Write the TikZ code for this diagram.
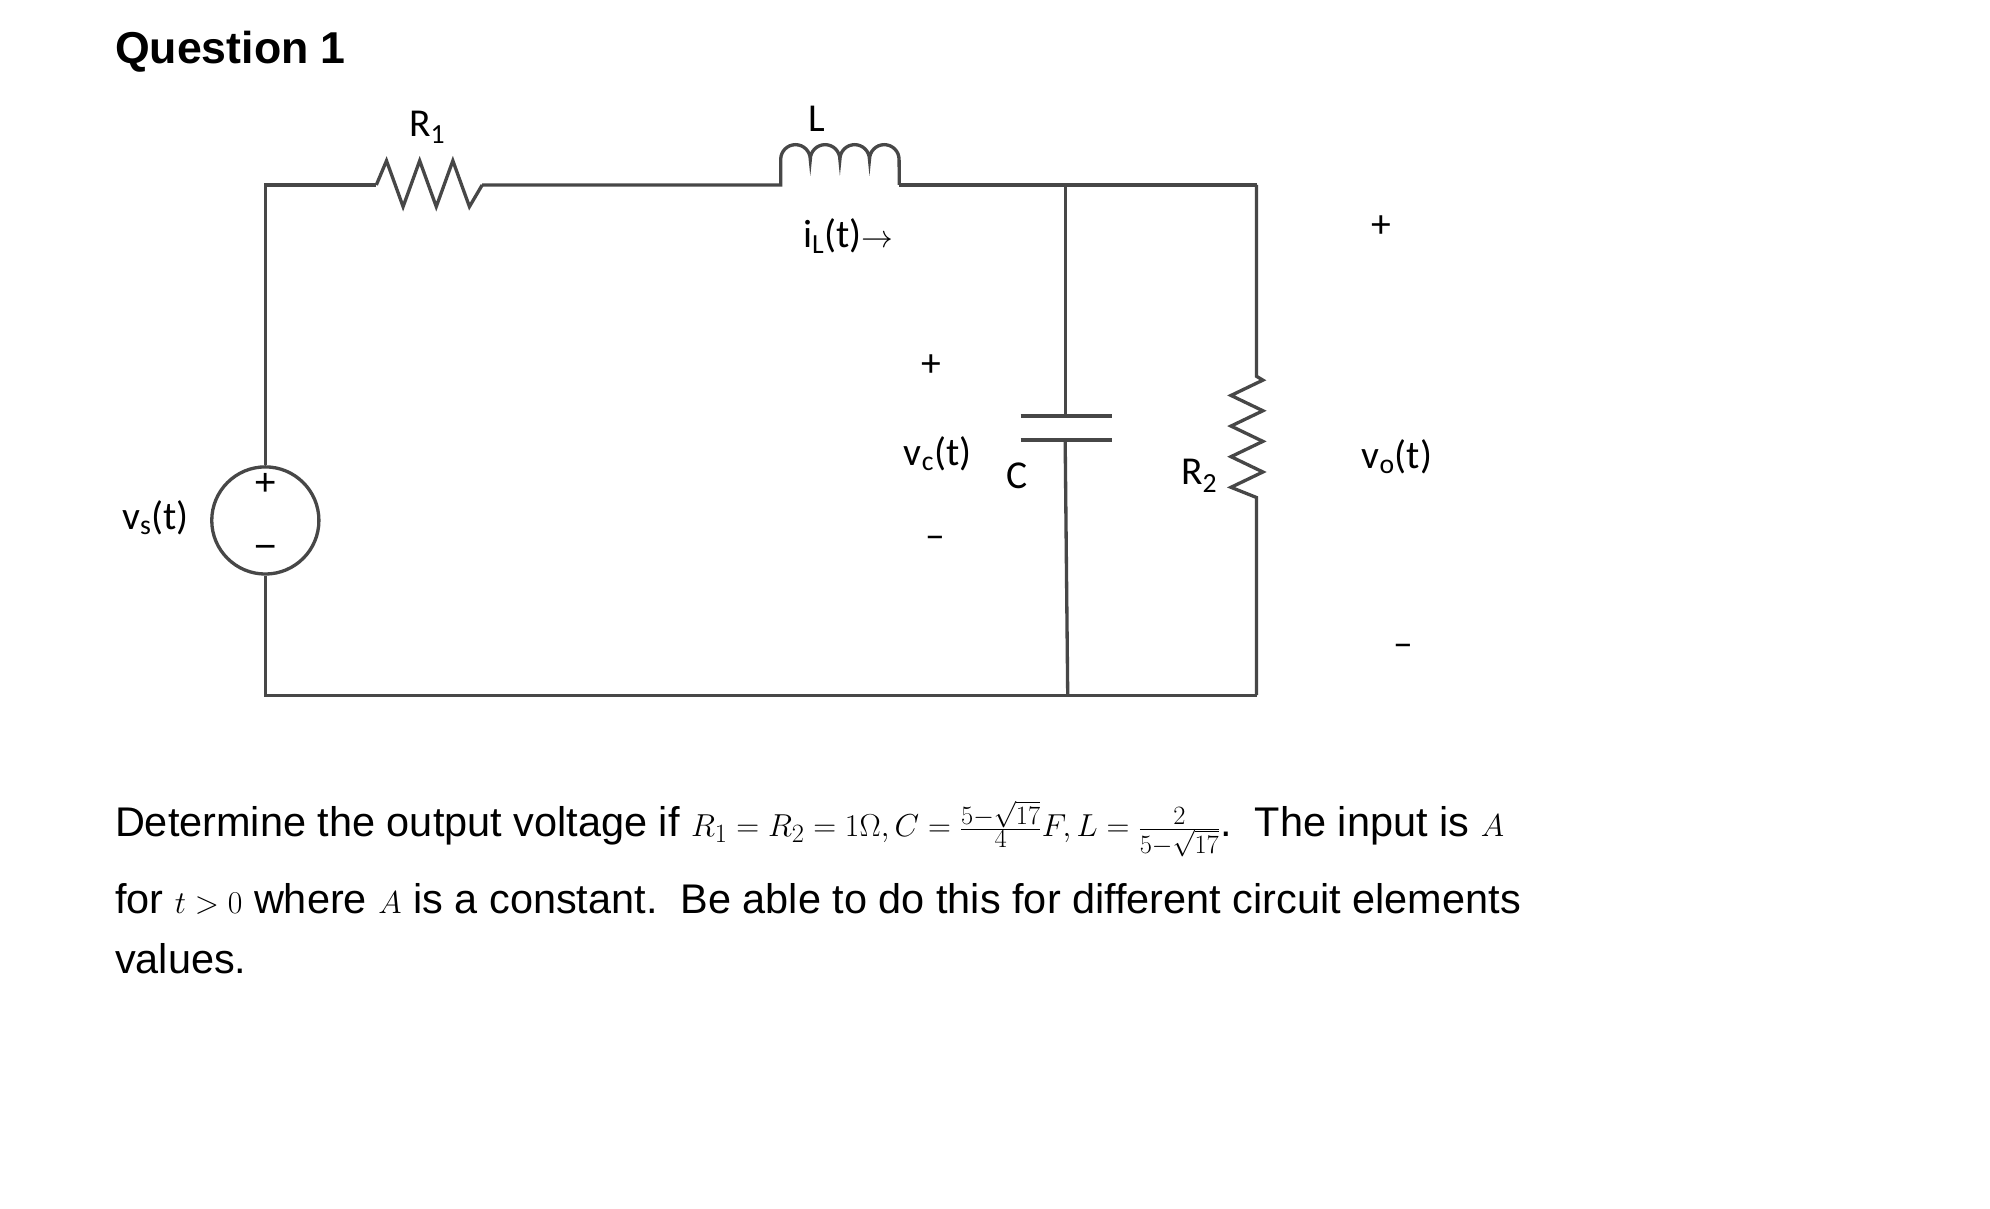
\documentclass[tikz,border=0pt]{standalone}
\usepackage{fontspec}
\setmainfont{Liberation Sans}
\newfontfamily\carl{Carlito}
\begin{document}
\begin{tikzpicture}[x=1pt,y=-1pt,
  w/.style={line width=2.6pt,draw=black!72},
  lab/.style={font=\carl\fontsize{31}{34}\selectfont,inner sep=0pt},
  txt/.style={font=\fontsize{32.5}{40}\selectfont,inner sep=0pt,anchor=base west}]
\useasboundingbox (0,0) rectangle (1560,947);
\fill[white] (0,0) rectangle (1560,947);
\node[font=\bfseries\fontsize{35}{40}\selectfont,anchor=base west,inner sep=0pt] (title) at (90,50) {Question 1};
% nodes
\coordinate (tl) at (208,145); \coordinate (bl) at (208,545);
\coordinate (r1a) at (295,145); \coordinate (r1b) at (378,145);
\coordinate (la) at (612,145); \coordinate (lb) at (705,145);
\coordinate (ct) at (835,145); \coordinate (cb) at (837,545);
\coordinate (tr) at (985,145); \coordinate (br) at (985,545);
\node[circle,w,minimum size=84pt,inner sep=0pt] (src) at (208,408) {};
% wires
\draw[w] (src.north) -- (tl) -- (r1a);
\draw[w] (r1a) -- (303,126) -- (316,162) -- (329,126) -- (342,162) -- (355,126) -- (368,162) -- (r1b);
\draw[w] (r1b) -- (la) -- (612,125) arc[start angle=180,end angle=0,radius=11.6pt] arc[start angle=180,end angle=0,radius=11.6pt] arc[start angle=180,end angle=0,radius=11.6pt] arc[start angle=180,end angle=0,radius=11.6pt] -- (lb);
\draw[w] (lb) -- (ct) -- (tr);
\draw[w] (src.south) -- (bl) -- (cb) -- (br);
% capacitor
\draw[w] (ct) -- (835,326); \draw[w] (800,326) -- (872,326);
\draw[w] (800,345) -- (872,345); \draw[w] (835,345) -- (cb);
% R2
\draw[w] (tr) -- (985,295) -- (990,298) -- (965,310) -- (990,322) -- (965,334) -- (990,346) -- (965,358) -- (990,370) -- (965,382) -- (985,390) -- (br);
% source signs
\node[font=\fontsize{30}{30}\selectfont,inner sep=0pt] (sp) at (208,380) {+};
\node[font=\fontsize{30}{30}\selectfont,inner sep=0pt] (sm) at (208,433) {\textminus};
% labels
\node[lab] (vs) at (122,406) {v\textsubscript{s}(t)};
\node[lab] (lr1) at (335,100) {R\textsubscript{1}};
\node[lab] (ll) at (640,93) {L};
\node[lab] (il) at (665,185) {i\textsubscript{L}(t)$\rightarrow$};
\node[lab] (vcp) at (730,287) {+};
\node[lab] (vc) at (735,356) {v\textsubscript{c}(t)};
\node[lab] (lc) at (797,373) {C};
\node[lab] (vcm) at (733,425) {\textendash};
\node[lab] (lr2) at (940,373) {R\textsubscript{2}};
\node[lab] (vop) at (1083,178) {+};
\node[lab] (vo) at (1095,358) {v\textsubscript{o}(t)};
\node[lab] (vom) at (1100,510) {\textendash};
% text
\node[txt] (t1) at (90,656) {Determine the output voltage if $R_1=R_2=1\Omega, C=\frac{5-\sqrt{17}}{4}F, L=\frac{2}{5-\sqrt{17}}$.\ \ The input is $A$};
\node[txt] (t2) at (90,716) {for $t>0$ where $A$ is a constant.\ \ Be able to do this for different circuit elements};
\node[txt] (t3) at (90,763) {values.};
\end{tikzpicture}
\end{document}
